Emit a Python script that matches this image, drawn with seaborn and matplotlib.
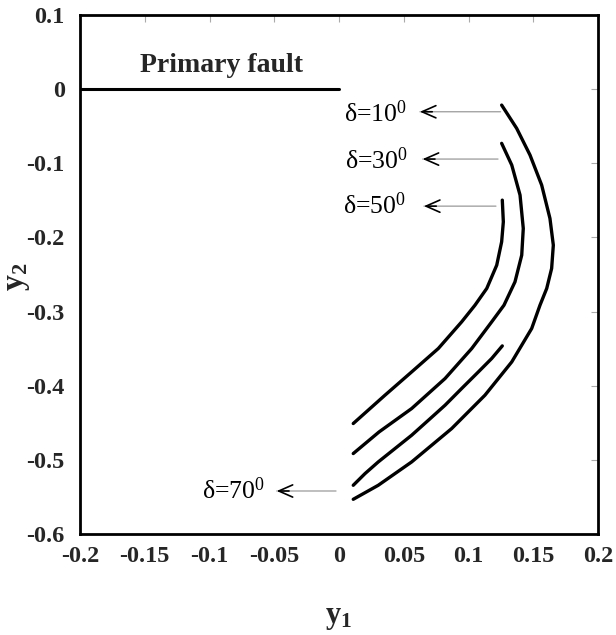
import matplotlib
matplotlib.use("Agg")
import matplotlib.pyplot as plt
import seaborn as sns
import pandas as pd

# ---------------- data ----------------
d10_x = [0.1256, 0.1372, 0.1475, 0.1565, 0.1629, 0.1655, 0.1642, 0.1604, 0.1552, 0.1488, 0.1334, 0.1127, 0.0870, 0.0561, 0.0303, 0.0110]
d10_y = [-0.0215, -0.0529, -0.0889, -0.1294, -0.1744, -0.2104, -0.2418, -0.2688, -0.2914, -0.3228, -0.3679, -0.4128, -0.4578, -0.5028, -0.5343, -0.5532]

d30_x = [0.1256, 0.1334, 0.1398, 0.1423, 0.1411, 0.1359, 0.1274, 0.1179, 0.1025, 0.0819, 0.0561, 0.0309, 0.0110]
d30_y = [-0.0731, -0.1024, -0.1429, -0.1879, -0.2239, -0.2599, -0.2914, -0.3139, -0.3498, -0.3903, -0.4308, -0.4624, -0.4915]

d50_x = [0.1261, 0.1269, 0.1256, 0.1218, 0.1141, 0.1050, 0.0947, 0.0767, 0.0561, 0.0355, 0.0110]
d50_y = [-0.1497, -0.1790, -0.2059, -0.2374, -0.2688, -0.2914, -0.3139, -0.3498, -0.3814, -0.4128, -0.4510]

d70_x = [0.1261, 0.1179, 0.1076, 0.0947, 0.0819, 0.0690, 0.0561, 0.0432, 0.0303, 0.0201, 0.0110]
d70_y = [-0.3463, -0.3633, -0.3814, -0.4038, -0.4263, -0.4466, -0.4668, -0.4848, -0.5028, -0.5185, -0.5343]

fault_x = [-0.2, 0.0]
fault_y = [0.0, 0.0]

delta_labels = ["δ=10$^{0}$", "δ=30$^{0}$", "δ=50$^{0}$", "δ=70$^{0}$"]
label_x = [0.0525, 0.0528, 0.0517, -0.0571]
label_y = [-0.044, -0.107, -0.168, -0.552]
arrow_y = [-0.0305, -0.0943, -0.1578, -0.542]
arrow_start = [0.1248, 0.1228, 0.1212, -0.0023]
arrow_tip = [0.0625, 0.0646, 0.0656, -0.0481]

xticks = [-0.2, -0.15, -0.1, -0.05, 0.0, 0.05, 0.1, 0.15, 0.2]
xtick_labels = ["-0.2", "-0.15", "-0.1", "-0.05", "0", "0.05", "0.1", "0.15", "0.2"]
yticks = [-0.6, -0.5, -0.4, -0.3, -0.2, -0.1, 0.0, 0.1]
ytick_labels = ["-0.6", "-0.5", "-0.4", "-0.3", "-0.2", "-0.1", "0", "0.1"]

# ---------------- style ----------------
sns.set_style("white")
plt.rcParams["font.family"] = ["Liberation Serif", "DejaVu Serif"]
plt.rcParams["mathtext.fontset"] = "custom"
plt.rcParams["mathtext.rm"] = "Liberation Serif"
plt.rcParams["mathtext.it"] = "Liberation Serif:italic"
plt.rcParams["mathtext.bf"] = "Liberation Serif:bold"

fig = plt.figure(figsize=(6.16, 6.35), dpi=100)
ax = fig.add_axes([80 / 616, 1 - 534 / 635, 518 / 616, 519 / 635])

curves = pd.concat([
    pd.DataFrame({"y1": d10_x, "y2": d10_y, "delta": "10"}),
    pd.DataFrame({"y1": d30_x, "y2": d30_y, "delta": "30"}),
    pd.DataFrame({"y1": d50_x, "y2": d50_y, "delta": "50"}),
    pd.DataFrame({"y1": d70_x, "y2": d70_y, "delta": "70"}),
], ignore_index=True)

sns.lineplot(data=curves, x="y1", y="y2", units="delta", estimator=None,
             sort=False, color="black", lw=2.4, ax=ax, legend=False,
             solid_joinstyle="round", solid_capstyle="round")
sns.lineplot(x=fault_x, y=fault_y, sort=False, color="black", lw=2.2, ax=ax)

# annotations
for lab, lx, ly, ay, a0, a1 in zip(delta_labels, label_x, label_y, arrow_y, arrow_start, arrow_tip):
    ax.text(lx, ly, lab, ha="right", va="baseline", fontsize=18.5, color="black")
    ax.annotate("", xy=(a1, ay), xytext=(a0, ay),
                arrowprops=dict(arrowstyle="-", color="#9a9a9a", lw=0.9,
                                shrinkA=0, shrinkB=0))
    ax.annotate("", xy=(a1, ay), xytext=(a1 + 0.0095, ay),
                arrowprops=dict(arrowstyle="->,head_length=0.5,head_width=0.22",
                                color="black", lw=1.2, mutation_scale=20,
                                shrinkA=0, shrinkB=0))

ax.text(-0.091, 0.0235, "Primary fault", ha="center", va="baseline",
        fontsize=20, fontweight="bold")

ax.set_xlim(-0.2, 0.2)
ax.set_ylim(-0.6, 0.1)
ax.set_xticks(xticks)
ax.set_xticklabels(xtick_labels)
ax.set_yticks(yticks)
ax.set_yticklabels(ytick_labels)
ax.tick_params(direction="in", length=5, width=0.8, color="#aaaaaa",
               top=True, right=True, labelsize=17.5)
ax.tick_params(axis="x", pad=9)
ax.tick_params(axis="y", pad=11)
for t in ax.get_xticklabels() + ax.get_yticklabels():
    t.set_fontweight("bold")
for s in ax.spines.values():
    s.set_linewidth(2.0)
    s.set_color("black")

ax.set_xlabel(r"$\mathbf{y_1}$", fontsize=22)
ax.set_ylabel(r"$\mathbf{y_2}$", fontsize=23)
ax.xaxis.set_label_coords(0.5, -0.132)
ax.yaxis.set_label_coords(-0.093, 0.495)

fig.savefig("out.png", dpi=100)
